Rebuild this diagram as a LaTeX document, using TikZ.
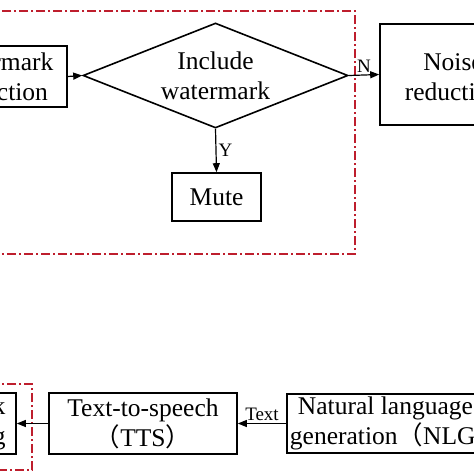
\documentclass[tikz,border=0pt]{standalone}
\usepackage{fontspec}
\setmainfont{Liberation Serif}
\newfontfamily\cjk{Noto Sans CJK SC}
\usetikzlibrary{shapes.geometric,arrows.meta}
\definecolor{dashred}{RGB}{190,30,45}
\begin{document}
\begin{tikzpicture}[x=1pt,y=-1pt,
 box/.style={draw,line width=1.6pt,inner sep=0pt,align=center,font=\fontsize{25.5}{30}\selectfont},
 arr/.style={line width=1.2pt,-{Triangle[length=9pt,width=7pt]}},
 lab/.style={font=\fontsize{19}{22}\selectfont,inner sep=2pt},
 region/.style={draw=dashred,line width=1.3pt,dash pattern=on 9pt off 3pt on 2pt off 3pt}]
\useasboundingbox (0,0) rectangle (474,474);
\clip (0,0) rectangle (474,474);
\fill[white] (0,0) rectangle (474,474);
\draw[region] (-90,11) rectangle (355,254);
\draw[region] (-120,384) rectangle (32,470);
\node[box,minimum width=140pt,minimum height=61pt] (wext) at (-3,76.5) {Watermark\\extraction};
\node[box,shape=diamond,minimum width=265pt,minimum height=105pt,shape aspect=2.52] (inc) at (215.5,75.5) {Include\\watermark};
\node[box,minimum width=89pt,minimum height=48pt] (mute) at (216.5,197) {Mute};
\node[box,text height=53pt,minimum width=146pt,minimum height=101pt] (noise) at (453,74.5) {Noise\\reduction};
\node[box,minimum width=134pt,minimum height=61pt] (wemb) at (-51,423.5) {Watermark\\embedding};
\node[box,minimum width=188pt,minimum height=61pt] (tts) at (143,423.5) {Text-to-speech\\{\cjk （}TTS{\cjk ）}};
\node[box,align=left,minimum width=217pt,minimum height=59pt] (nlg) at (395.5,423.5) {\hspace*{8pt}Natural language\\generation{\cjk （}NLG{\cjk ）}};
\draw[arr] (wext.east) -- (inc.west);
\draw[arr] (inc.south) -- node[lab,right]{Y} (mute.north);
\draw[arr] (inc.east) -- node[lab,above]{N} (noise.west);
\draw[arr] (nlg.west) -- node[lab,above]{Text} (tts.east);
\draw[arr] (tts.west) -- (wemb.east);
\end{tikzpicture}
\end{document}
